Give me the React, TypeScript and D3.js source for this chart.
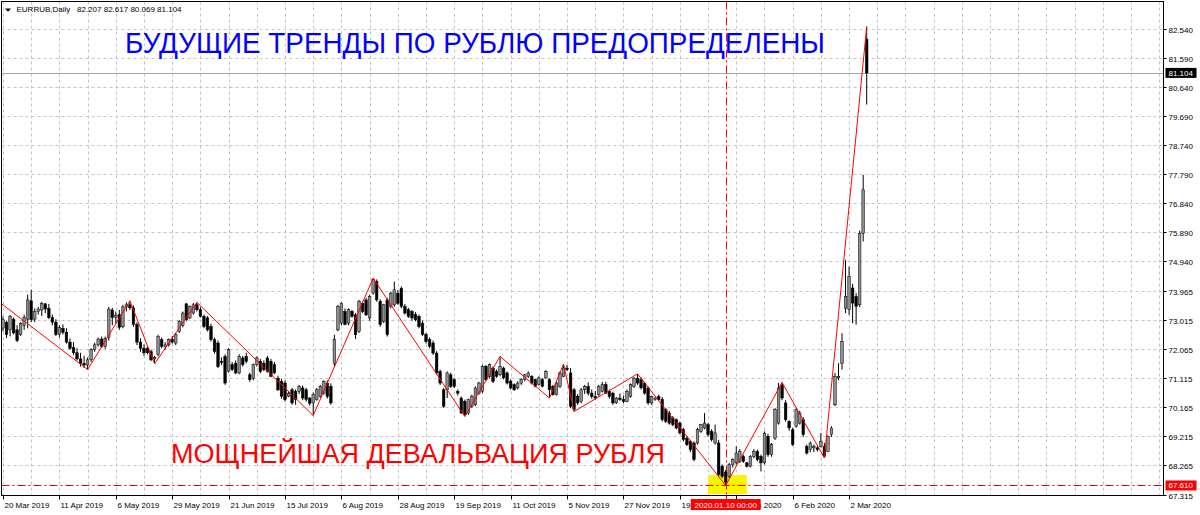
import React from "react";
import * as d3 from "d3";

// ---- data (daily EURRUB candles, bar index 0 = 20 Mar 2019) ----
const opens = [
  72.76,72.95,72.70,73.05,72.70,72.55,72.85,73.05,73.65,73.05,
  73.30,73.35,73.55,73.40,73.10,72.95,72.55,72.75,72.62,72.30,
  72.12,71.95,71.75,71.60,71.55,71.72,72.05,72.21,72.40,72.15,
  72.45,73.35,73.10,73.20,72.80,73.45,73.52,73.42,72.88,72.30,
  72.10,72.10,71.99,71.75,71.89,72.38,72.16,72.21,72.40,72.27,
  72.65,72.85,73.55,73.09,73.25,73.52,73.36,73.14,73.09,72.81,
  72.38,72.27,71.67,71.83,71.35,71.56,71.61,71.29,71.78,71.83,
  71.23,71.12,71.56,71.67,71.61,71.78,71.67,71.56,71.12,71.02,
  70.96,70.53,70.74,70.69,70.69,70.80,70.74,70.47,70.31,70.42,
  70.52,70.63,70.96,70.85,71.61,72.70,72.92,73.30,72.92,73.30,
  73.19,72.65,73.57,73.68,73.09,73.90,74.28,73.63,72.98,73.68,
  73.47,73.52,73.90,74.06,73.47,73.36,73.30,73.20,73.14,72.92,
  72.54,72.38,72.27,71.94,71.34,70.74,70.74,71.23,71.07,70.69,
  70.47,70.36,69.98,70.20,70.25,70.63,70.69,71.51,71.18,71.45,
  71.34,71.23,71.45,71.29,71.02,70.91,70.80,70.96,71.07,71.18,
  71.18,71.07,70.91,71.07,71.13,71.07,70.85,70.58,70.85,71.18,
  71.45,71.29,70.74,70.53,70.36,70.74,70.85,70.63,70.52,70.58,
  70.69,70.91,70.69,70.63,70.31,70.47,70.42,70.36,70.52,70.85,
  71.12,71.07,70.96,70.80,70.31,70.42,70.52,70.42,70.09,69.98,
  69.82,69.76,69.65,69.44,69.16,69.05,69.00,69.00,69.38,69.49,
  69.60,69.38,69.00,69.00,68.24,68.05,67.91,68.29,68.35,68.40,
  68.56,68.35,68.24,68.56,68.73,68.56,68.35,69.22,68.62,69.16,
  69.65,70.90,70.31,69.71,69.43,69.54,69.65,69.76,68.89,68.78,
  68.84,68.84,68.89,68.89,68.73,69.27,70.25,71.13,71.61,73.41,
  73.36,74.07,73.79,73.52,75.86,82.207,
];
const highs = [
  73.14,73.00,73.19,73.10,72.85,72.95,73.20,73.85,74.01,73.40,
  73.45,73.62,73.58,73.55,73.20,73.05,72.85,72.88,72.75,72.42,
  72.30,72.10,71.95,71.85,71.80,72.10,72.28,72.45,72.48,72.48,
  73.45,73.42,73.30,73.35,73.52,73.60,73.65,73.50,72.95,72.42,
  72.22,72.15,72.05,71.85,72.54,72.45,72.30,72.42,72.50,72.60,
  73.02,73.30,73.58,73.50,73.58,73.60,73.45,73.20,73.15,72.90,
  72.45,72.35,71.80,71.90,72.10,71.65,71.70,71.90,71.85,71.95,
  71.30,71.60,71.83,71.75,71.70,71.85,71.75,71.65,71.20,71.10,
  71.05,70.70,70.80,70.75,70.90,70.88,70.80,70.50,70.65,70.80,
  70.90,71.05,71.05,70.95,72.54,73.52,73.60,73.40,73.40,73.35,
  73.25,73.68,73.62,73.75,73.85,74.39,74.35,73.70,73.55,73.75,
  73.95,74.28,74.00,74.12,73.55,73.42,73.35,73.28,73.20,73.00,
  72.60,72.45,72.35,72.00,71.40,70.80,71.34,71.30,71.12,70.75,
  70.52,70.42,70.45,70.58,70.85,71.00,71.56,71.55,71.60,71.50,
  71.40,71.83,71.50,71.34,71.08,70.95,71.02,71.12,71.25,71.34,
  71.22,71.10,71.18,71.12,71.38,71.12,70.90,71.00,71.34,71.58,
  71.55,71.45,70.80,70.60,70.80,70.90,70.98,70.75,70.70,70.90,
  71.00,71.00,70.75,70.68,70.50,70.62,70.55,70.75,70.95,71.15,
  71.26,71.15,71.00,70.85,70.55,70.50,70.58,70.50,70.15,70.05,
  69.88,69.80,69.70,69.50,69.22,69.10,69.05,69.50,69.62,69.98,
  69.65,69.45,69.60,69.10,68.30,68.12,68.35,68.50,68.89,68.80,
  68.62,68.38,68.60,68.80,68.78,68.62,69.38,69.30,69.00,70.14,
  70.96,70.98,70.40,69.75,69.50,70.14,70.05,69.85,68.95,69.05,
  68.95,68.90,69.32,69.00,69.25,69.55,71.29,71.61,72.59,74.99,
  74.77,74.20,73.90,75.95,77.77,82.617,
];
const lows = [
  72.65,72.43,72.49,72.55,72.30,72.50,72.70,72.75,72.95,72.95,
  73.20,73.15,73.25,73.05,72.85,72.50,72.45,72.55,72.25,72.05,
  71.88,71.70,71.50,71.45,71.40,71.65,71.98,72.15,72.10,72.08,
  72.35,72.85,72.90,72.70,72.75,73.30,73.35,72.80,72.20,71.98,
  71.85,71.90,71.68,71.59,71.83,72.10,72.05,72.15,72.25,72.20,
  72.60,72.78,72.98,73.05,73.20,73.30,73.10,72.75,72.65,72.32,
  71.92,71.45,71.55,70.90,71.30,71.35,71.25,71.25,71.50,71.60,
  71.00,71.05,71.50,71.28,71.35,71.30,71.15,71.25,70.70,70.45,
  70.35,70.50,70.25,70.25,70.60,70.40,70.35,70.22,69.90,70.38,
  70.48,70.58,70.45,70.25,71.50,72.65,72.85,72.85,72.85,73.10,
  72.40,72.60,73.25,73.15,73.00,73.85,73.62,72.80,72.92,72.48,
  73.40,73.45,73.52,73.40,73.20,73.09,73.00,72.98,72.75,72.50,
  72.25,72.10,71.88,71.24,70.90,70.15,70.47,70.80,70.80,70.55,
  69.95,69.87,69.92,70.15,70.20,70.58,70.63,71.02,71.12,70.96,
  71.13,71.18,71.08,70.91,70.75,70.70,70.75,70.90,71.02,71.13,
  70.91,70.82,70.88,70.82,71.10,70.47,70.55,70.55,70.80,71.15,
  71.35,70.14,70.03,70.25,70.30,70.60,70.55,70.45,70.42,70.52,
  70.65,70.60,70.45,70.25,70.28,70.38,70.30,70.33,70.48,70.80,
  70.90,70.75,70.58,70.25,70.25,70.38,70.38,69.70,69.65,69.60,
  69.55,69.45,69.28,69.05,68.90,68.70,68.40,68.95,69.33,69.45,
  69.20,69.05,68.95,67.90,67.85,67.61,67.85,68.20,68.30,68.35,
  68.35,68.20,68.20,68.50,68.40,68.07,68.30,68.55,68.55,69.10,
  69.60,70.40,69.70,69.40,68.90,69.50,69.60,69.20,68.62,68.70,
  68.70,68.72,68.85,68.51,68.70,69.20,70.20,71.05,71.40,73.25,
  73.19,72.92,72.87,73.45,75.59,80.069,
];
const closes = [
  73.03,72.55,73.14,72.60,72.35,72.90,73.10,73.68,73.03,73.30,
  73.38,73.57,73.38,73.10,72.95,72.55,72.78,72.62,72.30,72.10,
  71.95,71.75,71.60,71.55,71.72,72.05,72.21,72.40,72.15,72.42,
  73.38,73.10,73.18,72.78,73.45,73.52,73.42,72.88,72.30,72.10,
  71.95,71.95,71.72,71.80,72.49,72.16,72.21,72.38,72.30,72.54,
  72.98,73.25,73.03,73.47,73.52,73.36,73.14,72.81,72.70,72.38,
  71.99,71.50,71.65,70.96,72.05,71.40,71.29,71.83,71.56,71.67,
  71.07,71.56,71.78,71.34,71.40,71.34,71.18,71.29,70.74,70.53,
  70.42,70.63,70.31,70.42,70.85,70.47,70.42,70.30,70.58,70.74,
  70.85,71.02,70.52,70.31,72.38,73.47,73.57,72.87,73.36,73.14,
  72.54,73.63,73.30,73.19,73.79,74.35,73.68,72.87,73.52,72.54,
  73.90,74.01,73.57,73.47,73.25,73.14,73.09,73.03,72.81,72.54,
  72.32,72.16,71.94,71.29,70.96,70.20,71.29,70.85,70.85,70.63,
  69.98,69.92,70.42,70.53,70.80,70.96,71.51,71.07,71.56,71.02,
  71.18,71.51,71.13,70.96,70.80,70.74,70.96,71.07,71.23,71.29,
  70.96,70.85,71.13,70.85,71.34,70.74,70.58,70.96,71.29,71.45,
  71.40,70.20,70.10,70.31,70.74,70.85,70.63,70.52,70.47,70.85,
  70.91,70.63,70.52,70.31,70.47,70.42,70.36,70.69,70.91,71.12,
  70.96,70.80,70.63,70.31,70.52,70.47,70.42,69.76,69.71,69.65,
  69.60,69.49,69.33,69.11,68.945,68.78,68.455,69.44,69.60,69.65,
  69.27,69.11,69.33,67.965,67.91,67.72,68.29,68.455,68.67,68.73,
  68.40,68.24,68.56,68.73,68.455,68.35,69.32,68.62,68.95,70.09,
  70.80,70.47,69.76,69.49,68.95,70.09,69.98,69.27,68.67,69.00,
  68.89,68.78,69.05,68.56,69.22,69.49,71.18,71.18,72.32,73.79,
  74.45,73.575,73.47,75.86,77.28,81.104,
];

const priceTicks = [82.54, 81.59, 80.64, 79.69, 78.74, 77.79, 76.84, 75.89, 74.94, 73.965, 73.015, 72.065, 71.115, 70.165, 69.215, 68.265, 67.315];
const priceTickLabels = ["82.540","81.590","80.640","79.690","78.740","77.790","76.840","75.890","74.940","73.965","73.015","72.065","71.115","70.165","69.215","68.265","67.315"];

const dateTickBars = [0, 16, 32, 48, 64, 80, 96, 112, 128, 144, 160, 176, 192, 208, 224, 240];
const dateTickLabels = ["20 Mar 2019","11 Apr 2019","6 May 2019","29 May 2019","21 Jun 2019","15 Jul 2019","6 Aug 2019","28 Aug 2019","19 Sep 2019","11 Oct 2019","5 Nov 2019","27 Nov 2019","19 Dec 2019","15 Jan 2020","6 Feb 2020","2 Mar 2020"];

// ZigZag pivots (bar index, price); first pivot lies before the visible window
const zigzagBars = [-3, 24, 36, 43, 55, 88, 105, 131, 141, 155, 159, 162, 180, 205, 221, 233, 245];
const zigzagPrices = [73.78, 71.40, 73.65, 71.59, 73.60, 69.90, 74.39, 69.87, 71.83, 70.47, 71.58, 70.03, 71.26, 67.61, 70.98, 68.51, 82.617];

const symbolName = "EURRUB,Daily";
const headerOHLC = "82.207 82.617 80.069 81.104";
const bidPrice = 81.104;
const bidLabel = "81.104";
const levelPrice = 67.61;
const levelLabel = "67.610";
const crossBar = 205;
const crossLabel = "2020.01.10 00:00";
const highlightBars = [200, 211];
const highlightPrices = [67.33, 67.95];
const titleTop = "БУДУЩИЕ ТРЕНДЫ ПО РУБЛЮ ПРЕДОПРЕДЕЛЕНЫ";
const titleBottom = "МОЩНЕЙШАЯ ДЕВАЛЬВАЦИЯ РУБЛЯ";
const lastBar = 245;
const gridEveryBars = 8;

export default function App() {
  const W = 1200, H = 515;
  const L = 1.5, T = 1.5, R = 1163.5, B = 495.5;
  const x = d3.scaleLinear().domain([0, lastBar]).range([3, 866.7]);
  const y = d3.scaleLinear().domain([67.315, 82.54]).range([494.5, 29]);
  const font = "'Liberation Sans', Arial, sans-serif";
  const px = (v: number) => Math.round(v) + 0.5;

  const vGrid: number[] = [];
  for (let b = 0; x(b) < R - 2; b += gridEveryBars) vGrid.push(px(x(b)));

  const zz = d3.line<number>().x((b) => x(zigzagBars[b])).y((b) => y(zigzagPrices[b]))(zigzagBars.map((_, i) => i)) || "";

  const bodyW = 2.6;
  const candles = opens.map((o, i) => {
    const c = closes[i];
    const h = Math.max(highs[i], o, c);
    const l = Math.min(lows[i], o, c);
    const cx = x(i);
    const up = c >= o;
    const yt = y(Math.max(o, c));
    const hb = Math.max(1, Math.abs(y(o) - y(c)));
    return (
      <g key={i}>
        <line x1={cx} x2={cx} y1={y(h)} y2={y(l)} stroke="#000" strokeWidth={1} />
        <rect x={cx - bodyW / 2} y={yt} width={bodyW} height={hb}
          fill={up ? "#8e8e8e" : "#000"} stroke="#000" strokeWidth={0.5} />
      </g>
    );
  });

  const cx = x(crossBar);
  const bidY = y(bidPrice);
  const lvlY = y(levelPrice);

  return (
    <svg width={W} height={H} style={{ position: "absolute", left: 0, top: 0, display: "block", background: "#fff" }}
      fontFamily={font}>
      <defs>
        <clipPath id="plot"><rect x={L} y={T} width={R - L} height={B - T} /></clipPath>
      </defs>
      <rect x={0} y={0} width={W} height={H} fill="#fff" />
      <g clipPath="url(#plot)">
        {/* grid */}
        {vGrid.map((gx, i) => (
          <line key={"vg" + i} x1={gx} x2={gx} y1={T} y2={B} stroke="#c4c4c4" strokeDasharray="3,3" />
        ))}
        {priceTicks.map((p, i) => (
          <line key={"hg" + i} x1={L} x2={R} y1={px(y(p))} y2={px(y(p))} stroke="#c4c4c4" strokeDasharray="3,3" />
        ))}
        {/* highlight rectangle */}
        <rect x={x(highlightBars[0])} y={y(highlightPrices[1])} width={x(highlightBars[1]) - x(highlightBars[0])}
          height={y(highlightPrices[0]) - y(highlightPrices[1])} fill="#f6f600" />
        {/* bid line */}
        <line x1={L} x2={R} y1={px(bidY)} y2={px(bidY)} stroke="#a8a8a8" strokeWidth={1} />
        {/* level & crosshair */}
        <line x1={L} x2={R} y1={px(lvlY)} y2={px(lvlY)} stroke="#ff0000" strokeDasharray="8,3,2,3" />
        <line x1={px(cx)} x2={px(cx)} y1={T} y2={B} stroke="#ff0000" strokeDasharray="8,3,2,3" />
        {candles}
        <path d={zz} fill="none" stroke="#ff0000" strokeWidth={1} />
        <text x={125} y={53} fontSize={30} fill="#0000ff" textLength={700} lengthAdjust="spacingAndGlyphs">{titleTop}</text>
        <text x={665} y={463} fontSize={27} fill="#ff0000" textAnchor="end">{titleBottom}</text>
      </g>
      {/* frame */}
      <rect x={L} y={T} width={R - L} height={B - T} fill="none" stroke="#000" strokeWidth={1} />
      {/* header */}
      <path d="M5,8.5 L11,8.5 L8,11.8 Z" fill="#000" />
      <text x={16.5} y={12} fontSize={8} fill="#000">{symbolName}</text>
      <text x={77} y={12} fontSize={8} fill="#000">{headerOHLC}</text>
      {/* right axis */}
      {priceTicks.map((p, i) => {
        const ty = px(y(p));
        return (
          <g key={"pt" + i}>
            <line x1={R} x2={R + 3} y1={ty} y2={ty} stroke="#000" />
            <text x={1168.5} y={ty + 3} fontSize={8} fill="#000">{priceTickLabels[i]}</text>
          </g>
        );
      })}
      <rect x={1165.5} y={bidY - 5} width={31} height={10} fill="#000" />
      <text x={1168.5} y={bidY + 3} fontSize={8} fill="#fff">{bidLabel}</text>
      <rect x={1165.5} y={lvlY - 5} width={31} height={10} fill="#ff0000" />
      <text x={1168.5} y={lvlY + 3} fontSize={8} fill="#fff">{levelLabel}</text>
      {/* bottom axis */}
      {dateTickBars.map((b, i) => {
        const tx = px(x(b));
        return (
          <g key={"dt" + i}>
            <line x1={tx} x2={tx} y1={B} y2={B + 4} stroke="#000" />
            <text x={tx + 1} y={508} fontSize={8} fill="#000">{dateTickLabels[i]}</text>
          </g>
        );
      })}
      <line x1={px(cx)} x2={px(cx)} y1={B} y2={499} stroke="#ff0000" />
      <rect x={cx - 35} y={499} width={70} height={11} fill="#ff0000" />
      <text x={cx} y={507.5} fontSize={8} fill="#fff" textAnchor="middle">{crossLabel}</text>
    </svg>
  );
}
